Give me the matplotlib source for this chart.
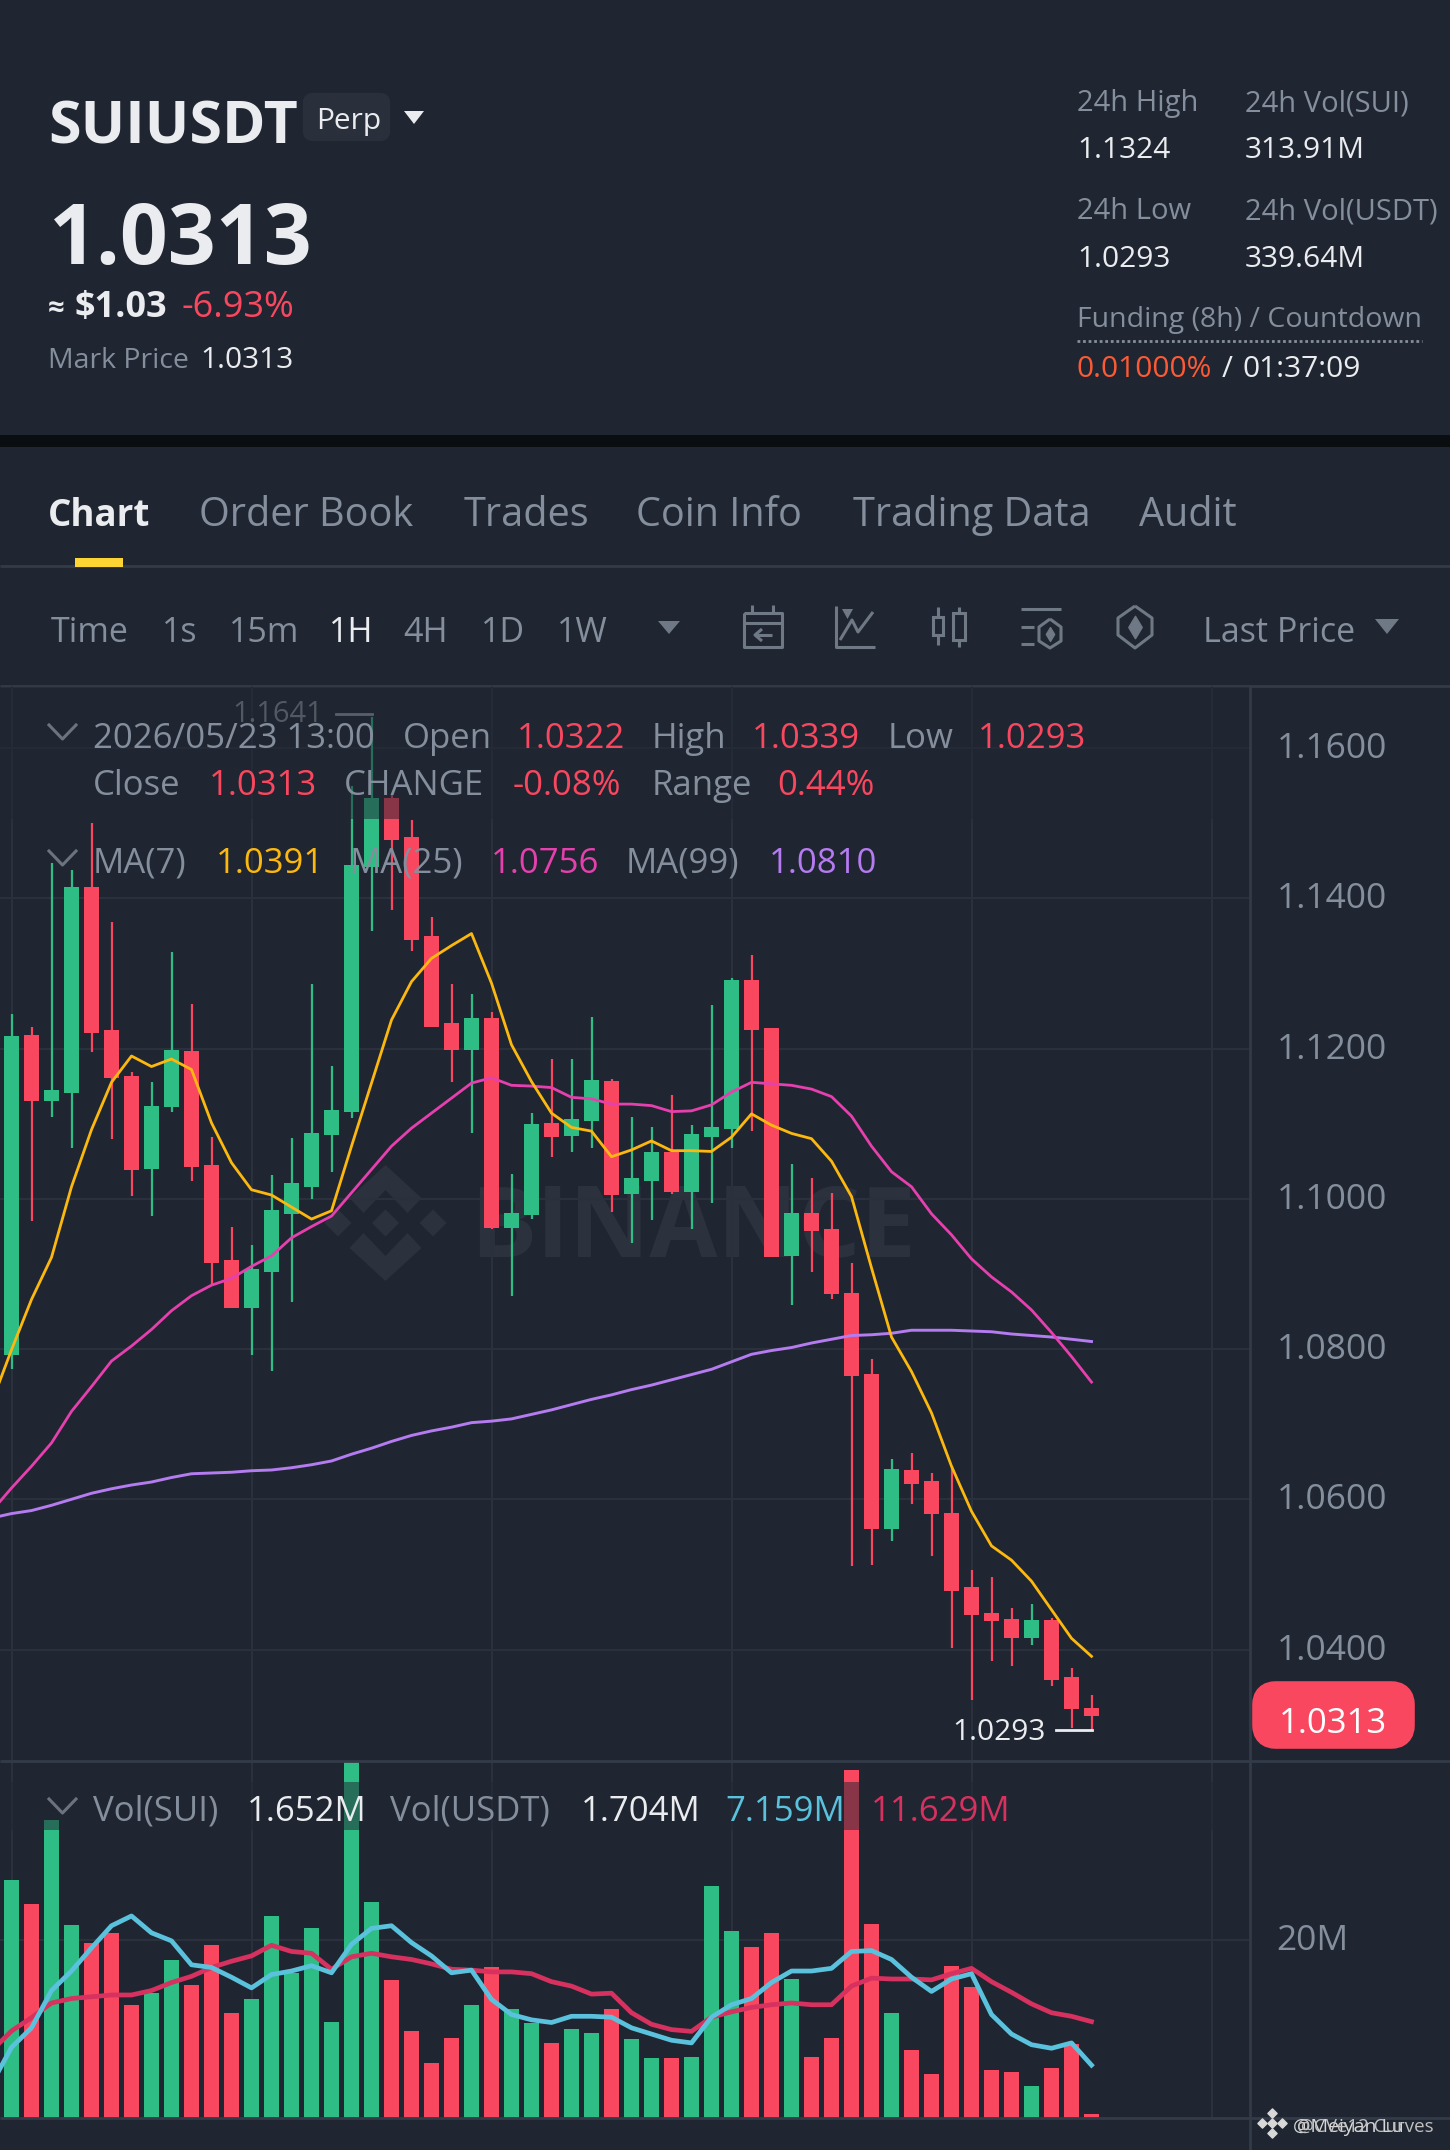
#! /usr/bin/env python3
"""Futures chart screen: hourly candles with MA lines and a volume panel."""
import matplotlib
matplotlib.use('Agg')
from matplotlib import pyplot as plt
from matplotlib.patches import FancyBboxPatch, Polygon, Rectangle
from matplotlib.transforms import ScaledTranslation

# ---- candles, one entry per hour ----
opens = [1.0792, 1.1218, 1.1130, 1.1141, 1.1415, 1.1224, 1.1164, 1.1039, 1.1122, 1.1197, 1.1045,
         1.0919, 1.0855, 1.0902, 1.0980, 1.1016, 1.1085, 1.1115, 1.1442, 1.1534, 1.1481, 1.1350,
         1.1234, 1.1198, 1.1241, 1.0961, 1.0979, 1.1101, 1.1083, 1.1103, 1.1157, 1.1006, 1.1024,
         1.1062, 1.1009, 1.1082, 1.1093, 1.1291, 1.1227, 1.0924, 1.0981, 1.0960, 1.0875, 1.0767,
         1.0560, 1.0639, 1.0624, 1.0582, 1.0483, 1.0449, 1.0441, 1.0416, 1.0440, 1.0364, 1.0322]
closes = [1.1217, 1.1130, 1.1145, 1.1415, 1.1220, 1.1161, 1.1038, 1.1124, 1.1198, 1.1042, 1.0914,
          1.0855, 1.0906, 1.0985, 1.1021, 1.1088, 1.1118, 1.1444, 1.1534, 1.1478, 1.1345, 1.1229,
          1.1198, 1.1240, 1.0961, 1.0981, 1.1100, 1.1082, 1.1106, 1.1158, 1.1005, 1.1028, 1.1062,
          1.1009, 1.1086, 1.1096, 1.1291, 1.1224, 1.0923, 1.0981, 1.0957, 1.0873, 1.0764, 1.0560,
          1.0640, 1.0620, 1.0580, 1.0478, 1.0446, 1.0438, 1.0416, 1.0439, 1.0360, 1.0321, 1.0311]
highs = [1.1246, 1.1228, 1.1447, 1.1437, 1.1500, 1.1368, 1.1169, 1.1155, 1.1328, 1.1259, 1.1082,
         1.0963, 1.0938, 1.1031, 1.1081, 1.1286, 1.1177, 1.1549, 1.1641, 1.1537, 1.1504, 1.1375,
         1.1286, 1.1272, 1.1249, 1.1033, 1.1114, 1.1186, 1.1186, 1.1242, 1.1160, 1.1109, 1.1095,
         1.1138, 1.1098, 1.1258, 1.1294, 1.1324, 1.1227, 1.1046, 1.1027, 1.1008, 1.0914, 1.0787,
         1.0654, 1.0662, 1.0635, 1.0644, 1.0506, 1.0497, 1.0455, 1.0460, 1.0442, 1.0376, 1.0339]
lows = [1.0773, 1.0970, 1.1109, 1.1067, 1.1195, 1.1079, 1.1004, 1.0977, 1.1116, 1.1023, 1.0887,
        1.0855, 1.0792, 1.0771, 1.0863, 1.1000, 1.1036, 1.1107, 1.1357, 1.1385, 1.1330, 1.1229,
        1.1156, 1.1087, 1.0960, 1.0871, 1.0973, 1.1055, 1.1062, 1.1067, 1.0982, 1.0941, 1.0972,
        1.1007, 1.0960, 1.0995, 1.1067, 1.1090, 1.0922, 1.0859, 1.0902, 1.0866, 1.0511, 1.0512,
        1.0544, 1.0594, 1.0525, 1.0402, 1.0333, 1.0385, 1.0378, 1.0406, 1.0352, 1.0295, 1.0293]

# moving averages start one hour before the first candle, which is off screen
ma7 = [1.0728, 1.0799, 1.0866, 1.0922, 1.1016, 1.1092, 1.1155, 1.1190, 1.1176, 1.1186, 1.1172, 1.1101,
       1.1048, 1.1012, 1.1005, 1.0989, 1.0973, 1.0984, 1.1070, 1.1154, 1.1238, 1.1289, 1.1320, 1.1337,
       1.1353, 1.1287, 1.1205, 1.1156, 1.1114, 1.1095, 1.1090, 1.1056, 1.1065, 1.1077, 1.1064, 1.1064,
       1.1063, 1.1082, 1.1113, 1.1098, 1.1087, 1.1080, 1.1050, 1.1003, 1.0908, 1.0816, 1.0770, 1.0715,
       1.0644, 1.0584, 1.0538, 1.0519, 1.0491, 1.0453, 1.0415, 1.0391]
ma25 = [1.0584, 1.0615, 1.0644, 1.0675, 1.0717, 1.0750, 1.0784, 1.0804, 1.0826, 1.0851, 1.0871, 1.0885,
        1.0894, 1.0910, 1.0924, 1.0948, 1.0963, 1.0977, 1.1008, 1.1039, 1.1070, 1.1094, 1.1114, 1.1134,
        1.1154, 1.1161, 1.1151, 1.1150, 1.1148, 1.1135, 1.1133, 1.1126, 1.1126, 1.1124, 1.1116, 1.1117,
        1.1125, 1.1142, 1.1155, 1.1153, 1.1151, 1.1146, 1.1136, 1.1110, 1.1070, 1.1036, 1.1016, 1.0980,
        1.0952, 1.0920, 1.0896, 1.0876, 1.0852, 1.0822, 1.0790, 1.0756]
ma99 = [1.0575, 1.0581, 1.0585, 1.0592, 1.0600, 1.0608, 1.0614, 1.0619, 1.0623, 1.0629, 1.0634, 1.0635,
        1.0636, 1.0638, 1.0639, 1.0642, 1.0646, 1.0651, 1.0660, 1.0668, 1.0677, 1.0685, 1.0691, 1.0696,
        1.0702, 1.0704, 1.0707, 1.0713, 1.0719, 1.0726, 1.0733, 1.0739, 1.0746, 1.0752, 1.0759, 1.0766,
        1.0773, 1.0783, 1.0793, 1.0798, 1.0802, 1.0808, 1.0813, 1.0818, 1.0819, 1.0821, 1.0825, 1.0825,
        1.0825, 1.0824, 1.0823, 1.0820, 1.0818, 1.0816, 1.0813, 1.0810]

# volume in millions
volumes = [26.75, 24.0, 33.5, 21.65, 19.7, 20.8, 12.7, 14.0, 17.75, 14.9, 19.4, 11.8, 13.4, 22.7,
           16.3, 21.4, 10.8, 40.2, 24.3, 15.5, 9.7, 6.1, 8.9, 12.7, 17.0, 12.2, 10.7, 8.4, 10.0,
           9.5, 12.2, 8.85, 6.7, 6.75, 6.8, 26.1, 21.0, 19.2, 20.8, 15.6, 6.8, 8.9, 39.1, 21.8,
           11.8, 7.65, 4.95, 17.1, 14.7, 5.3, 5.1, 3.6, 5.55, 8.25, 0.4]
vol_ma_fast = [3.75, 7.9, 10.1, 14.3, 16.5, 19.1, 21.6, 22.7, 20.8, 19.9, 17.2, 16.9, 15.8, 14.6,
               16.1, 16.5, 17.1, 16.3, 19.5, 21.3, 21.6, 19.7, 18.2, 16.3, 16.6, 13.3, 11.6, 11.0,
               10.7, 11.4, 11.4, 11.3, 10.1, 9.4, 8.7, 8.4, 11.3, 12.7, 13.4, 15.2, 16.5, 16.5,
               16.8, 18.7, 18.8, 17.8, 15.8, 14.2, 15.6, 16.2, 11.6, 9.4, 8.2, 7.8, 8.4, 5.9]
vol_ma_slow = [7.5, 9.75, 11.25, 12.9, 13.4, 13.6, 13.8, 13.8, 14.3, 15.2, 15.9, 16.9, 17.6, 18.2,
               19.4, 18.7, 18.5, 16.7, 18.1, 18.5, 18.1, 17.8, 17.3, 16.7, 16.6, 16.4, 16.4, 16.2,
               15.3, 14.8, 13.9, 14.0, 11.8, 10.5, 9.9, 9.7, 11.3, 11.9, 12.4, 12.7, 12.9, 12.7,
               12.7, 14.8, 15.7, 15.6, 15.6, 15.5, 16.2, 16.8, 15.3, 14.1, 12.8, 11.8, 11.4, 10.8]

price_ticks = [1.16, 1.14, 1.12, 1.10, 1.08, 1.06, 1.04]
price_tick_labels = ['1.1600', '1.1400', '1.1200', '1.1000', '1.0800', '1.0600', '1.0400']
time_ticks = [0, 12, 24, 36, 48, 60]

tab_names = ['Chart', 'Order Book', 'Trades', 'Coin Info', 'Trading Data', 'Audit']
tab_x = [49, 199, 464, 636, 853, 1139]
interval_names = ['Time', '1s', '15m', '1H', '4H', '1D', '1W']
interval_x = [51, 162, 229, 329, 403, 481, 557]

BG = '#1f2631'
GRID = '#2a313c'
LINE = '#343b48'
GREY = '#848e9c'
WHITE = '#eaecef'
RED = '#f9475f'
GREEN = '#2ebd85'
YELLOW = '#fcb80f'
PINK = '#e640ae'
PURPLE = '#b57bf0'
CYAN = '#5bc2dd'
CRIMSON = '#d6315f'
ICON = '#6f7885'
MARK = '#2b323d'

FIG_W, FIG_H = 1450, 2150
plt.rcParams['font.family'] = ['Open Sans', 'DejaVu Sans']


def ui_axes(fig, zorder):
    """Axes over the whole figure, in picture pixels."""
    ax = fig.add_axes([0, 0, 1, 1], zorder=zorder)
    ax.set_xlim(0, FIG_W)
    ax.set_ylim(FIG_H, 0)
    ax.axis('off')
    return ax


def panel_axes(fig, top, bottom, zorder):
    ax = fig.add_axes([0, 1 - bottom / FIG_H, 1250 / FIG_W, (bottom - top) / FIG_H],
                      zorder=zorder)
    ax.patch.set_alpha(0)
    for side in ax.spines.values():
        side.set_visible(False)
    ax.set_xlim(-0.575, 61.925)
    ax.set_xticks(time_ticks)
    ax.tick_params(length=0, labelbottom=False, labelleft=False)
    ax.grid(True, color=GRID, lw=1.5)
    ax.set_axisbelow(True)
    return ax


fig = plt.figure(figsize=(14.5, 21.5), dpi=100, facecolor=BG)
back = ui_axes(fig, 0)
front = ui_axes(fig, 5)


def txt(x, y, s, size, color=GREY, weight='normal', ax=None, **kw):
    (ax or front).text(x, y, s, fontsize=size, color=color, weight=weight,
                       ha=kw.pop('ha', 'left'), va='baseline', zorder=12, **kw)


def hline(ax, x0, x1, y, color=LINE, lw=2.0, **kw):
    ax.plot([x0, x1], [y, y], color=color, lw=lw, solid_capstyle='butt', **kw)


def tri(ax, x0, x1, y0, y1, color=ICON):
    ax.add_patch(Polygon([(x0, y0), (x1, y0), ((x0 + x1) / 2, y1)], closed=True,
                         facecolor=color, edgecolor='none', zorder=12))


def chevron(x0, x1, y0, y1):
    front.plot([x0, (x0 + x1) / 2, x1], [y0, y1, y0], color='#6b7380', lw=2.2, zorder=12)


# ======================================================================== #
# Header and tabs
back.add_patch(Rectangle((0, 435), FIG_W, 12, facecolor='#0b0e11', edgecolor='none'))
hline(back, 0, FIG_W, 565.5, lw=2.0)
hline(back, 0, FIG_W, 685.5, lw=2.0)
back.add_patch(Rectangle((75, 558), 48, 9, facecolor='#fcd535', edgecolor='none', zorder=5))

txt(48, 144, 'SUIUSDT', 42.5, WHITE, 'bold')
front.add_patch(FancyBboxPatch((307, 97), 79, 40, boxstyle='round,pad=0,rounding_size=6',
                               mutation_aspect=1, facecolor='#2a303b', edgecolor='#2a303b', lw=6))
txt(316, 129, 'Perp', 21.5, WHITE)
tri(front, 404, 424, 111, 124, WHITE)
txt(49, 264, '1.0313', 60.5, WHITE, 'bold')
txt(48, 317, '≈', 21, WHITE, 'bold')
txt(75, 317, '$1.03', 26, WHITE, 'bold')
txt(182, 317, '-6.93%', 26, RED, 'normal')
txt(48, 368, 'Mark Price', 20.5, GREY)
txt(200, 368, '1.0313', 21.5, WHITE)

txt(1077, 111, '24h High', 21)
txt(1245, 111, '24h Vol(SUI)', 21)
txt(1077, 158, '1.1324', 21.5, WHITE)
txt(1245, 158, '313.91M', 21.5, WHITE)
txt(1077, 219, '24h Low', 21)
txt(1245, 219, '24h Vol(USDT)', 21)
txt(1077, 267, '1.0293', 21.5, WHITE)
txt(1245, 267, '339.64M', 21.5, WHITE)
txt(1077, 327, 'Funding (8h) / Countdown', 20.5)
front.plot([1077, 1422], [341, 341], color=GREY, lw=2, ls=(0, (1, 1)))
txt(1077, 377, '0.01000%', 21.5, '#fc5a34')
txt(1222, 377, '/', 21.5, WHITE)
txt(1243, 377, '01:37:09', 21.5, WHITE)

for name, x in zip(tab_names, tab_x):
    if name == 'Chart':
        txt(x - 1, 526, name, 26.5, WHITE, 'bold')
    else:
        txt(x, 526, name, 28.5, GREY)
for name, x in zip(interval_names, interval_x):
    txt(x, 642, name, 24.5, WHITE if name == '1H' else GREY)
tri(front, 658, 680, 621, 634)
txt(1203, 642, 'Last Price', 24.5)
tri(front, 1375, 1399, 619, 634)

# ---- toolbar icons ----
ic = dict(color=ICON, lw=2.2, zorder=12, solid_capstyle='butt')
# calendar
front.plot([744, 782, 782, 744, 744], [613, 613, 647, 647, 613], **ic)
front.plot([744, 782], [623, 623], **ic)
front.plot([752, 752], [605, 612], **ic)
front.plot([773, 773], [605, 612], **ic)
front.plot([772, 755], [635, 635], **ic)
front.plot([762, 755, 762], [629, 635, 641], **ic)
# line chart
front.plot([836, 836, 875], [606, 647, 647], **ic)
front.plot([840, 852, 858, 873], [640, 620, 632, 612], **ic)
tri(front, 842, 853, 609, 619)
# candles
front.plot([938, 938], [607, 645], **ic)
front.plot([959, 959], [607, 647], **ic)
front.add_patch(Rectangle((933, 617), 10, 18, facecolor=BG, edgecolor=ICON, lw=2.2, zorder=13))
front.add_patch(Rectangle((953, 613), 12, 27, facecolor=BG, edgecolor=ICON, lw=2.2, zorder=13))
# indicator settings
front.plot([1021, 1061], [609, 609], **ic)
front.plot([1021, 1034], [627, 627], **ic)
front.plot([1021, 1034], [644, 644], **ic)
front.plot([1050, 1061, 1061, 1050, 1039, 1039, 1050], [619, 627, 641, 648, 641, 627, 619], **ic)
front.scatter([1050], [634], marker='d', s=50, color=ICON, zorder=12)
# hexagon
front.plot([1135, 1152, 1152, 1135, 1118, 1118, 1135], [606, 618, 635, 648, 635, 618, 606], **ic)
front.scatter([1135], [627], marker='d', s=130, color=ICON, zorder=12)

# ---- watermark ----
wx, wy = 385.5, 1223
cap_top = [(0, -58), (36, -25), (22, -10), (0, -33), (-22, -10), (-36, -25)]
back.add_patch(Polygon([(wx + a, wy + b) for a, b in cap_top], facecolor=MARK, edgecolor='none'))
back.add_patch(Polygon([(wx + a, wy - b) for a, b in cap_top], facecolor=MARK, edgecolor='none'))
for dx in (-47.5, 0, 47.5):
    back.add_patch(Polygon([(wx + dx - 13.5, wy), (wx + dx, wy - 13.5),
                            (wx + dx + 13.5, wy), (wx + dx, wy + 13.5)],
                           facecolor=MARK, edgecolor='none'))
back.text(470, 1257, 'BINANCE', fontsize=71, color=MARK, weight='bold', va='baseline')

# ======================================================================== #
# Price panel
ax = panel_axes(fig, 686, 1761.5, 1)
ax.set_ylim(1.0251, 1.16825)
xs = list(range(len(opens)))
ma_xs = list(range(-1, len(opens)))
colors = [GREEN if c >= o else RED for o, c in zip(opens, closes)]
body_low = [min(o, c) for o, c in zip(opens, closes)]
body_h = [abs(c - o) for o, c in zip(opens, closes)]

ax.vlines(xs, lows, highs, colors=colors, lw=1.6, zorder=3)
ax.bar(xs, body_h, bottom=body_low, width=0.71, color=colors, zorder=3)
ax.plot(ma_xs, ma99, color=PURPLE, lw=2.1, zorder=4)
ax.plot(ma_xs, ma25, color=PINK, lw=2.0, zorder=4)
ax.plot(ma_xs, ma7, color=YELLOW, lw=2.0, zorder=4)

ax.set_yticks(price_ticks)
ax.set_yticklabels(price_tick_labels)
ax.yaxis.tick_right()
ax.tick_params(axis='y', length=0, pad=19, labelsize=25.5, labelcolor=GREY, labelright=True)
lift = ScaledTranslation(0, 3 / 100, fig.dpi_scale_trans)
for lab in ax.get_yticklabels():
    lab.set_transform(lab.get_transform() + lift)

# high and low markers
ax.plot([16.2, 18], [1.1645, 1.1645], color='#9a9fa8', lw=2, zorder=5)
ax.text(15.6, 1.1635, '1.1641', fontsize=21, color='#8d929b', ha='right', va='baseline', zorder=5)
ax.plot([52.2, 54], [1.0293, 1.0293], color=WHITE, lw=2, zorder=5)
ax.text(51.7, 1.0279, '1.0293', fontsize=21.5, color=WHITE, ha='right', va='baseline', zorder=5)

# ======================================================================== #
# Volume panel
vol = panel_axes(fig, 1761.5, 2117.5, 1)
vol.set_ylim(0, 40.1)
vol.bar(xs, volumes, width=0.71, color=colors, zorder=3, clip_on=False)
vol.plot(ma_xs, vol_ma_slow, color=CRIMSON, lw=3.4, zorder=4)
vol.plot(ma_xs, vol_ma_fast, color=CYAN, lw=3.4, zorder=5)
vol.set_yticks([20])
vol.set_yticklabels(['20M'])
vol.yaxis.tick_right()
vol.tick_params(axis='y', length=0, pad=19, labelsize=25.5, labelcolor=GREY, labelright=True)
for lab in vol.get_yticklabels():
    lab.set_transform(lab.get_transform() + lift)

# ======================================================================== #
# Frame lines, dimmed legend strips and legend text
hline(front, 0, FIG_W, 1761, zorder=8)
hline(front, 0, FIG_W, 2117.5, zorder=8)
front.plot([1250, 1250], [686, FIG_H], color=LINE, lw=2, zorder=8)
front.add_patch(Rectangle((0, 687), 1249, 132, facecolor=BG, alpha=0.52, edgecolor='none', zorder=6))
front.add_patch(Rectangle((0, 1782), 1249, 48, facecolor=BG, alpha=0.52, edgecolor='none', zorder=6))

LEG = 25

chevron(49, 76, 725, 739)
txt(93, 748, '2026/05/23 13:00', LEG)
txt(403, 748, 'Open', LEG)
txt(517, 748, '1.0322', LEG, RED)
txt(652, 748, 'High', LEG)
txt(752, 748, '1.0339', LEG, RED)
txt(888, 748, 'Low', LEG)
txt(978, 748, '1.0293', LEG, RED)
txt(93, 795, 'Close', LEG)
txt(209, 795, '1.0313', LEG, RED)
txt(344, 795, 'CHANGE', LEG)
txt(513, 795, '-0.08%', LEG, RED)
txt(652, 795, 'Range', LEG)
txt(777, 795, '0.44%', LEG, RED)

chevron(49, 76, 851, 865)
txt(93, 873, 'MA(7)', LEG)
txt(216, 873, '1.0391', LEG, YELLOW)
txt(350, 873, 'MA(25)', LEG)
txt(491, 873, '1.0756', LEG, PINK)
txt(626, 873, 'MA(99)', LEG)
txt(769, 873, '1.0810', LEG, PURPLE)

chevron(49, 76, 1799, 1813)
txt(93, 1821, 'Vol(SUI)', LEG)
txt(247, 1821, '1.652M', LEG, WHITE)
txt(390, 1821, 'Vol(USDT)', LEG)
txt(581, 1821, '1.704M', LEG, WHITE)
txt(725, 1821, '7.159M', LEG, CYAN)
txt(871, 1821, '11.629M', LEG, CRIMSON)

# current price tag
front.add_patch(FancyBboxPatch((1264, 1693), 139, 44, boxstyle='round,pad=0,rounding_size=12',
                               facecolor=RED, edgecolor=RED, lw=17, zorder=9))
txt(1279, 1733, '1.0313', 25, '#ffffff')

# overlapping handles in the corner
front.scatter([1262, 1272, 1282, 1272, 1272], [2123, 2113, 2123, 2133, 2123], marker='D', s=22,
              color='#d8d8d8', zorder=12)
txt(1293, 2132, '@Meiyan Lu', 14, '#d8d8d8')
txt(1297, 2132, '@CVe12 Curves', 13.5, '#c0c0c0')

plt.savefig('out.png', dpi=100, facecolor=BG)
